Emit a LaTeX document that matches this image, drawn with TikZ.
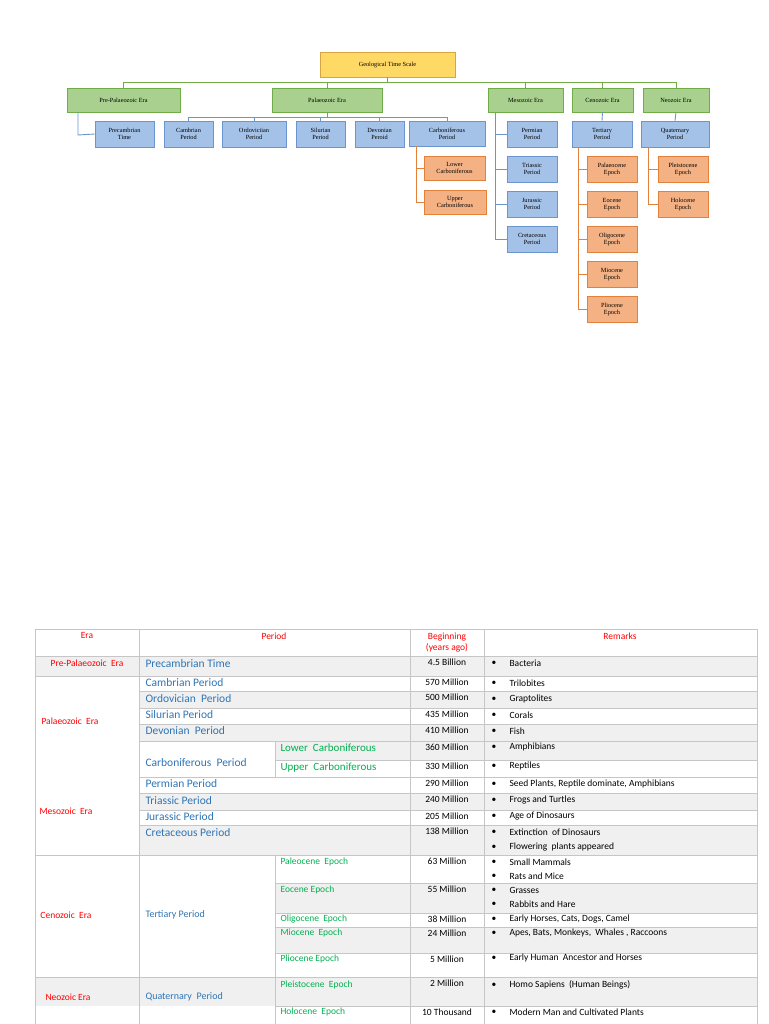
\documentclass[tikz,border=0pt]{standalone}
\usepackage{fontspec}
\setmainfont{Liberation Serif}
\newfontfamily\tf{Carlito}
\begin{document}
\begin{tikzpicture}[x=1pt,y=-1pt,
 bx/.style={draw,line width=0.6pt,align=center,inner sep=0pt,font=\fontsize{6.3}{7}\selectfont,text depth=0pt},
 gb/.style={bx,fill=gfill,draw=gline},
 bb/.style={bx,fill=bfill,draw=bline},
 ob/.style={bx,fill=ofill,draw=oline},
 gl/.style={gline,line width=0.9pt},
 bl/.style={bline,line width=0.9pt},
 ol/.style={oline,line width=0.9pt},
 grid/.style={draw=gray!45,line width=0.7pt},
 era/.style={font=\tf\fontsize{9.5}{10}\selectfont,text=red},
 per/.style={font=\tf\fontsize{11.5}{12}\selectfont,text=pblue,anchor=west},
 sub/.style={font=\tf\fontsize{11}{12}\selectfont,text=sgreen,anchor=west},
 dat/.style={font=\tf\fontsize{9.5}{10}\selectfont,anchor=north},
 rem/.style={font=\tf\fontsize{9.5}{10}\selectfont,anchor=west,align=left},
 shd/.style={fill=gray!12,draw=none}]
\definecolor{gfill}{HTML}{A9D08E}\definecolor{gline}{HTML}{70AD47}
\definecolor{bfill}{HTML}{A4C2E8}\definecolor{bline}{HTML}{6A95CF}
\definecolor{ofill}{HTML}{F4B183}\definecolor{oline}{HTML}{E2813C}
\definecolor{yfill}{HTML}{FFD966}\definecolor{yline}{HTML}{D9A441}
\definecolor{pblue}{HTML}{2E75B6}\definecolor{sgreen}{HTML}{00B050}
\useasboundingbox (0,0) rectangle (768,1024);
% ---------- chart ----------
\node[bx,fill=yfill,draw=yline,minimum width=135,minimum height=25] (top) at (387.5,64.5) {Geological Time Scale};
\node[gb,minimum width=113,minimum height=24] (pre) at (123.5,100) {Pre-Palaeozoic Era};
\node[gb,minimum width=110,minimum height=24] (pal) at (327,100) {Palaeozoic Era};
\node[gb,minimum width=75,minimum height=24] (mes) at (525.5,100) {Mesozoic Era};
\node[gb,minimum width=61,minimum height=24] (cen) at (602.5,100) {Cenozoic Era};
\node[gb,minimum width=66,minimum height=24] (neo) at (676,100) {Neozoic Era};
\coordinate (gbar) at (0,82);
\draw[gl] (top.south) -- (top.south|-gbar);
\draw[gl] (pre.north) -- (pre.north|-gbar) -- (neo.north|-gbar) -- (neo.north);
\foreach \n in {pal,mes,cen} \draw[gl] (\n.north|-gbar) -- (\n.north);
% palaeozoic periods
\node[bb,minimum width=59,minimum height=26] (prc) at (124.5,134) {Precambrian\\Time};
\node[bb,minimum width=49,minimum height=26] (cam) at (188.5,134) {Cambrian\\Period};
\node[bb,minimum width=64,minimum height=26] (ord) at (254,134) {Ordoviciian\\Period};
\node[bb,minimum width=49,minimum height=26] (sil) at (320.5,134) {Silurian\\Period};
\node[bb,minimum width=49,minimum height=26] (dev) at (379.5,134) {Devonian\\Peroid};
\node[bb,minimum width=76,minimum height=25] (car) at (447,133.5) {Carboniferous\\Period};
\draw[bl] (pre.south-|78,0) -- (78,135) -- (prc.west);
\coordinate (bbar) at (0,117);
\draw[bl] (pal.south) -- (pal.south|-bbar);
\draw[bl] (cam.north|-bbar) -- (car.north|-bbar);
\foreach \n in {cam,ord,sil,dev,car} \draw[bl] (\n.north|-bbar) -- (\n.north);
\node[ob,minimum width=61,minimum height=24] (low) at (454.5,168) {Lower\\Carboniferous};
\node[ob,minimum width=62,minimum height=24] (upp) at (455,202) {Upper\\Carboniferous};
\draw[ol] (car.south-|416,0) -- (416,202) -- (upp.west);
\draw[ol] (416,168) -- (low.west);
% mesozoic
\node[bb,minimum width=50,minimum height=26] (per) at (532,134) {Permian\\Period};
\node[bb,minimum width=50,minimum height=26] (tri) at (532,169) {Triassic\\Period};
\node[bb,minimum width=50,minimum height=26] (jur) at (532,204) {Jurassic\\Period};
\node[bb,minimum width=50,minimum height=26] (cre) at (532,239) {Cretaceous\\Period};
\draw[bl] (mes.south-|495,0) -- (495,239) -- (cre.west);
\foreach \n in {per,tri,jur} \draw[bl] (495,0|-\n.west) -- (\n.west);
% cenozoic
\node[bb,minimum width=60,minimum height=26] (ter) at (602,134) {Tertiary\\Period};
\draw[bl] (cen.south) -- (ter.north);
\node[ob,minimum width=50,minimum height=26] (e1) at (612,169) {Palaeocene\\Epoch};
\node[ob,minimum width=50,minimum height=26] (e2) at (612,204) {Eocene\\Epoch};
\node[ob,minimum width=50,minimum height=26] (e3) at (612,239) {Oligocene\\Epoch};
\node[ob,minimum width=50,minimum height=26] (e4) at (612,274) {Miocene\\Epoch};
\node[ob,minimum width=50,minimum height=26] (e5) at (612,309) {Pliocene\\Epoch};
\draw[ol] (ter.south-|578,0) -- (578,309) -- (e5.west);
\foreach \n in {e1,e2,e3,e4} \draw[ol] (578,0|-\n.west) -- (\n.west);
% neozoic
\node[bb,minimum width=68,minimum height=26] (qua) at (675,134) {Quaternary\\Period};
\draw[bl] (neo.south) -- (qua.north);
\node[ob,minimum width=50,minimum height=26] (ple) at (683,169) {Pleistocene\\Epoch};
\node[ob,minimum width=50,minimum height=26] (hol) at (683,204) {Holocene\\Epoch};
\draw[ol] (qua.south-|648,0) -- (648,204) -- (hol.west);
\draw[ol] (648,169) -- (ple.west);
% ---------- table ----------
\fill[shd] (35,656) rectangle (757,676);
\fill[shd] (139,691) rectangle (757,708);
\fill[shd] (139,724) rectangle (757,741);
\fill[shd] (275,741) rectangle (757,760);
\fill[shd] (139,793) rectangle (757,810);
\fill[shd] (139,825) rectangle (757,855);
\fill[shd] (275,883) rectangle (757,913);
\fill[shd] (275,927) rectangle (757,953);
\fill[shd] (35,977) rectangle (757,1006);
% horizontal lines
\foreach \y in {629,656,676,855,977} \draw[grid] (35,\y) -- (757,\y);
\foreach \y in {691,708,724,741,777,793,810,825} \draw[grid] (139,\y) -- (757,\y);
\foreach \y in {760,883,913,927,953,1006} \draw[grid] (275,\y) -- (757,\y);
% vertical lines
\foreach \x in {35,139,410,484,757} \draw[grid] (\x,629) -- (\x,1024);
\draw[grid] (275,741) -- (275,777);
\draw[grid] (275,855) -- (275,1024);
% header
\node[era,anchor=north] at (87,629) {Era};
\node[era,anchor=north] at (274,629) {Period};
\node[era,anchor=north,align=center,font=\tf\fontsize{9.5}{11}\selectfont] at (447,629) {Beginning\\(years ago)};
\node[era,anchor=north] at (620,629) {Remarks};
% eras
\node[era] at (87,663) {Pre-Palaeozoic\ \ Era};
\node[era] at (70,721) {Palaeozoic\ \ Era};
\node[era] at (66,811) {Mesozoic\ \ Era};
\node[era] at (66,915) {Cenozoic\ \ Era};
\node[era] at (68,997) {Neozoic Era};
% periods
\foreach \y/\t in {664/Precambrian Time,683/Cambrian Period,699/Ordovician\ \ Period,715/Silurian Period,731/Devonian\ \ Period,763/Carboniferous\ \ Period,784/Permian Period,801/Triassic Period,817/Jurassic Period,833/Cretaceous Period}
  \node[per] at (142,\y) {\t};
\node[per,font=\tf\fontsize{10}{11}\selectfont] at (142,915) {Tertiary Period};
\node[per,font=\tf\fontsize{10}{11}\selectfont] at (142,997) {Quaternary\ \ Period};
\node[sub] at (277,748) {Lower\ \ Carboniferous};
\node[sub] at (277,768) {Upper\ \ Carboniferous};
\foreach \y/\t in {862/Paleocene\ \ Epoch,890/Eocene Epoch,919/Oligocene\ \ Epoch,933/Miocene\ \ Epoch,959/Pliocene Epoch,985/Pleistocene\ \ Epoch,1012/Holocene\ \ Epoch}
  \node[sub,font=\tf\fontsize{9.5}{10}\selectfont] at (277,\y) {\t};
% dates
\foreach \y/\t in {656/4.5 Billion,676/570 Million,691/500 Million,708/435 Million,724/410 Million,741/360 Million,760/330 Million,777/290 Million,793/240 Million,810/205 Million,825/138 Million,855/63 Million,883/55 Million,913/38 Million,927/24 Million,953/5 Million,977/2 Million,1006/10 Thousand}
  \node[dat] at (447,\y-1) {\t};
% remarks
\foreach \y/\t in {663/Bacteria,683/Trilobites,699/Graptolites,715/Corals,731/Fish,747/Amphibians,766/Reptiles,784/{Seed Plants, Reptile dominate, Amphibians},800/Frogs and Turtles,816/Age of Dinosaurs,832/Extinction\ \ of Dinosaurs,847/Flowering\ \ plants appeared,862/Small Mammals,876/Rats and Mice,890/Grasses,904/Rabbits and Hare,919/{Early Horses, Cats, Dogs, Camel},933/{Apes, Bats, Monkeys,\ \ Whales\ , Raccoons},958/Early Human\ \ Ancestor and Horses,985/Homo Sapiens\ \ (Human Beings),1012/Modern Man and Cultivated Plants}
  {\node[rem] at (488,\y) {\textbullet}; \node[rem] at (506,\y) {\t};}
\end{tikzpicture}
\end{document}
